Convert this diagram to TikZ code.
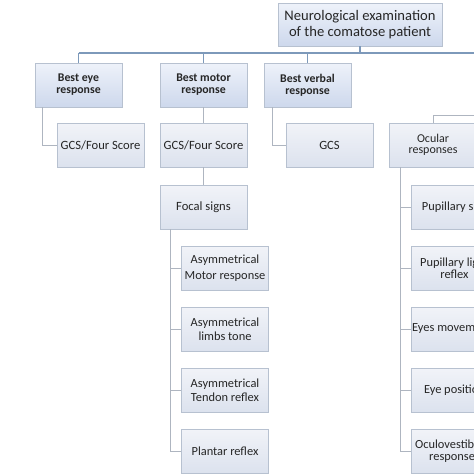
\documentclass[tikz,border=0pt]{standalone}
\usepackage{fontspec}
\setmainfont{Carlito}
\usetikzlibrary{shadows}
\definecolor{busblue}{HTML}{7D99BA}
\definecolor{linkgray}{HTML}{AEB5C0}
\definecolor{boxline}{HTML}{B7C1D0}
\definecolor{topfill}{HTML}{EEF2FA}
\definecolor{lowfill}{HTML}{CDD8EC}
\definecolor{palefill}{HTML}{F1F3F8}
\definecolor{palelow}{HTML}{DCE2EE}
\begin{document}
\begin{tikzpicture}[x=1pt,y=-1pt,
    box/.style={draw=boxline,line width=0.6pt,inner sep=1pt,align=center,text=black!85,
        drop shadow={opacity=0.18,shadow xshift=0.8pt,shadow yshift=-0.8pt}},
    main node/.style={box,minimum width=164pt,minimum height=43pt,top color=topfill,bottom color=lowfill,font=\fontsize{14.6}{15.5}\selectfont},
    group node/.style={box,minimum width=87pt,minimum height=44pt,top color=topfill,bottom color=lowfill,font=\bfseries\fontsize{11.8}{12}\selectfont},
    item node/.style={box,minimum width=87pt,minimum height=44pt,top color=palefill,bottom color=palelow,font=\fontsize{12.6}{13}\selectfont},
    small item/.style={item node,font=\fontsize{12.4}{14}\selectfont},
    bus/.style={draw=busblue,line width=1.5pt},
    link/.style={draw=linkgray,line width=1pt}]
    \useasboundingbox (0,0) rectangle (474,474);
    \clip (0,0) rectangle (474,474);
    \fill[white] (0,0) rectangle (474,474);

    \coordinate (busend) at (480,53);
    \coordinate (ocbus) at (480,115);

    \draw[bus] (360,46) -- (360,53);
    \draw[bus] (78.5,53) -- (busend);
    \draw[link] (ocbus) -| (433,123);

    \node[main node] (root) at (360,24.5) {Neurological examination\\of the comatose patient};

    \node[group node] (eye) at (78.5,85) {Best eye\\response};
    \node[group node] (motor) at (203.5,85) {Best motor\\response};
    \node[group node] (verbal) at (307.5,85) {Best verbal\\response};

    \node[item node] (gcseye) at (100.5,145) {GCS/Four Score};
    \node[item node] (gcsmotor) at (203.5,145) {GCS/Four Score};
    \node[item node] (gcsverbal) at (329.5,145) {GCS};
    \node[item node,font=\fontsize{12}{11.5}\selectfont] (ocular) at (433,145) {Ocular\\responses};

    \node[item node] (focal) at (203.5,207) {Focal signs};
    \node[small item,font=\fontsize{12.4}{16}\selectfont] (amotor) at (225,268) {Asymmetrical\\Motor response};
    \node[small item] (atone) at (225,329) {Asymmetrical\\limbs tone};
    \node[small item] (atendon) at (225,390) {Asymmetrical\\Tendon reflex};
    \node[small item] (plantar) at (225,451) {Plantar reflex};

    \node[small item] (psize) at (454.5,207) {Pupillary size};
    \node[small item,font=\fontsize{12.4}{12}\selectfont] (plight) at (454.5,268) {Pupillary light\\reflex};
    \node[small item] (emov) at (454.5,329) {Eyes movements};
    \node[small item] (epos) at (454.5,390) {Eye position};
    \node[small item,font=\fontsize{12.4}{12}\selectfont] (ovest) at (454.5,451) {Oculovestibular\\responses};

    % top level bus
    \draw[bus] (root.south) -- (360,53);
    \draw[bus] (eye.north) -- (78.5,53);
    \draw[bus] (motor.north) -- (203.5,53);
    \draw[bus] (verbal.north) -- (307.5,53);

    % branches
    \draw[link] ([xshift=8pt]eye.south west) |- (gcseye.west);
    \draw[link] (motor.south) -- (gcsmotor.north);
    \draw[link] ([xshift=9pt]verbal.south west) |- (gcsverbal.west);
    \draw[link] (gcsmotor.south) -- (focal.north);
    \draw[link] ([xshift=11pt]focal.south west) |- (plantar.west);
    \foreach \n in {amotor,atone,atendon}
        \draw[link] (171,0 |- \n.west) -- (\n.west);
    \draw[link] ([xshift=11pt]ocular.south west) |- (ovest.west);
    \foreach \n in {psize,plight,emov,epos}
        \draw[link] (401,0 |- \n.west) -- (\n.west);
\end{tikzpicture}
\end{document}
